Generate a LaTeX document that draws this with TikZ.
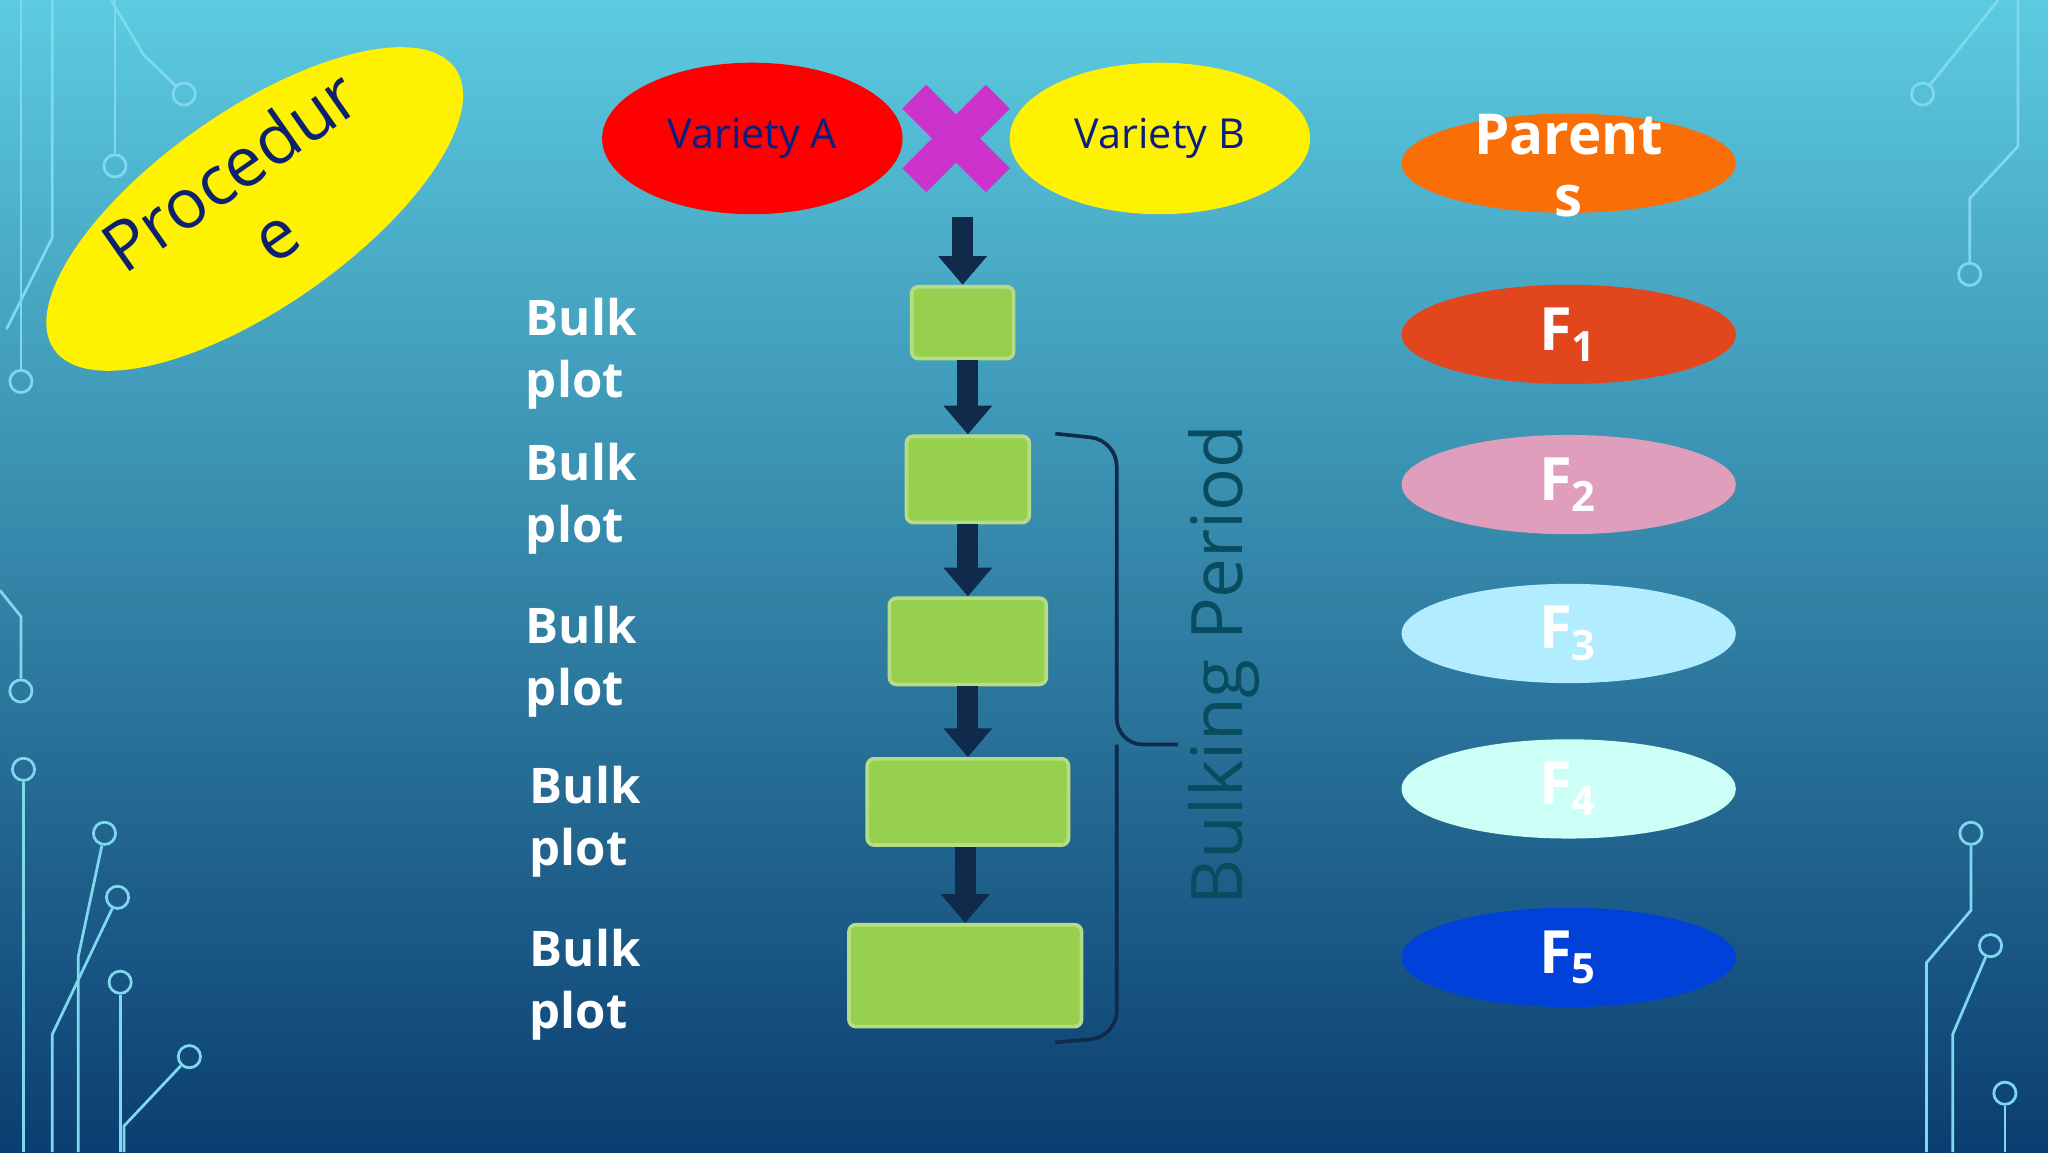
\documentclass[tikz,border=0pt]{standalone}
\usepackage{fontspec}
\setmainfont{Open Sans}
\usetikzlibrary{shapes.geometric}
\usetikzlibrary{positioning}
\usetikzlibrary{arrows.meta}
\definecolor{bgtop}{HTML}{5CCBE0}
\definecolor{bgbot}{HTML}{0B3E70}
\definecolor{boxgreen}{HTML}{97CF4F}
\definecolor{navy}{HTML}{0F2A4A}
\definecolor{wire}{HTML}{7FD8EE}
\tikzset{my_oval/.style={ellipse, minimum width=2.56cm, minimum height=0.76cm, inner sep=0pt, font=\bfseries\fontsize{13}{13}\selectfont, text=white}}
\tikzset{my_box/.style={draw=boxgreen!70!white, fill=boxgreen, rounded corners=1.5pt, thick}}
\tikzset{my_arrow/.style={-{Triangle[length=2.2mm,width=3.6mm]}, line width=1.6mm, navy}}
\tikzset{my_label/.style={align=left, text=white, font=\bfseries\fontsize{10.7}{13.5}\selectfont, anchor=west, inner sep=0pt}}
\tikzset{my_wire/.style={wire, line width=0.6pt}}
\tikzset{my_pin/.style={circle, draw=wire, line width=0.6pt, minimum size=0.17cm, inner sep=0pt}}

\begin{document}
\begin{tikzpicture}
    \shade[top color=bgtop, bottom color=bgbot] (0,0) rectangle (15.68,8.82);
    \useasboundingbox (0,0) rectangle (15.68,8.82);
    % circuit lines
    \node[my_pin] (p1) at (1.41,8.1) {};
    \node[my_pin] (p2) at (0.88,7.55) {};
    \node[my_pin] (p3) at (0.16,5.9) {};
    \node[my_pin] (p4) at (0.16,3.53) {};
    \node[my_pin] (p5) at (0.18,2.93) {};
    \node[my_pin] (p6) at (0.8,2.44) {};
    \node[my_pin] (p7) at (0.9,1.95) {};
    \node[my_pin] (p8) at (0.92,1.3) {};
    \node[my_pin] (p9) at (1.45,0.73) {};
    \node[my_pin] (q1) at (14.72,8.1) {};
    \node[my_pin] (q2) at (15.08,6.72) {};
    \node[my_pin] (q3) at (15.09,2.44) {};
    \node[my_pin] (q4) at (15.24,1.58) {};
    \node[my_pin] (q5) at (15.35,0.45) {};
    \draw[my_wire] (p1) -- (1.1,8.4) -- (0.85,8.82);
    \draw[my_wire] (p2) -- (0.88,8.82);
    \draw[my_wire] (p3) -- (0.16,8.82);
    \draw[my_wire] (0.05,6.3) -- (0.4,7.0) -- (0.4,8.82);
    \draw[my_wire] (p4) -- (0.16,4.1) -- (0,4.3);
    \draw[my_wire] (p5) -- (0.18,0);
    \draw[my_wire] (p6) -- (0.6,1.5) -- (0.6,0);
    \draw[my_wire] (p7) -- (0.4,0.9) -- (0.4,0);
    \draw[my_wire] (p8) -- (0.92,0);
    \draw[my_wire] (p9) -- (0.95,0.2) -- (0.95,0);
    \draw[my_wire] (q1) -- (15.3,8.82);
    \draw[my_wire] (q2) -- (15.08,7.3) -- (15.45,7.7) -- (15.45,8.82);
    \draw[my_wire] (q3) -- (15.09,1.85) -- (14.75,1.45) -- (14.75,0);
    \draw[my_wire] (q4) -- (14.95,0.9) -- (14.95,0);
    \draw[my_wire] (q5) -- (15.35,0);

    % title oval
    \node[ellipse, fill=yellow, minimum width=3.75cm, minimum height=1.5cm, rotate=35] (proc) at (1.95,7.22) {};
    \node[rotate=35, align=center, text=navy!80!blue, font=\fontsize{15}{17}\selectfont] (proctext) at (1.93,7.27) {Procedur\\e};

    % crossing
    \node[ellipse, fill=red, minimum width=2.3cm, minimum height=1.16cm,
        text=navy!70!blue, font=\fontsize{9}{9}\selectfont] (varA) at (5.76,7.76) {Variety A};
    \node[ellipse, fill=yellow, minimum width=2.3cm, minimum height=1.16cm,
        text=navy!70!blue, font=\fontsize{9}{9}\selectfont] (varB) at (8.88,7.76) {Variety B};
    \node (cross) at (7.32,7.76) {};
    \draw[violet!50!magenta!80!white, line width=2.6mm] (7.0,8.08) -- (7.64,7.44);
    \draw[violet!50!magenta!80!white, line width=2.6mm] (7.0,7.44) -- (7.64,8.08);

    % bulk plots
    \node[my_box, minimum width=0.78cm, minimum height=0.55cm] (b1) at (7.37,6.35) {};
    \node[my_box, minimum width=0.94cm, minimum height=0.66cm] (b2) at (7.41,5.15) {};
    \node[my_box, minimum width=1.2cm, minimum height=0.66cm] (b3) at (7.41,3.91) {};
    \node[my_box, minimum width=1.54cm, minimum height=0.66cm] (b4) at (7.41,2.68) {};
    \node[my_box, minimum width=1.78cm, minimum height=0.78cm] (b5) at (7.39,1.35) {};
    \draw[my_arrow] (7.37,7.16) -- (b1.north);
    \draw[my_arrow] (b1.south -| b2.north) -- (b2.north);
    \draw[my_arrow] (b2.south) -- (b3.north);
    \draw[my_arrow] (b3.south) -- (b4.north);
    \draw[my_arrow] (b4.south -| b5.north) -- (b5.north);

    \node[my_label] (l1) at (4.02,6.11) {Bulk\\plot};
    \node[my_label] (l2) at (4.02,5.0) {Bulk\\plot};
    \node[my_label] (l3) at (4.02,3.75) {Bulk\\plot};
    \node[my_label] (l4) at (4.05,2.53) {Bulk\\plot};
    \node[my_label] (l5) at (4.05,1.28) {Bulk\\plot};

    % brace
    \coordinate (brtop) at (8.08,5.5);
    \coordinate (brbot) at (8.08,0.84);
    \coordinate (brtip) at (9.02,3.12);
    \draw[navy, thick, rounded corners=2mm] (brtop) -- (8.55,5.45) -- (8.55,3.12) -- (brtip);
    \draw[navy, thick, rounded corners=2mm] (brbot) -- (8.55,0.88) -- (8.55,3.12);
    \node[rotate=90, text=navy!60!teal, font=\fontsize{15.5}{15.5}\selectfont] (bp) at (9.37,3.73) {Bulking Period};

    % generations
    \node[my_oval, fill=orange!85!red!90!brown] (par) at (12.01,7.57) {};
    \node[align=center, text=white, font=\bfseries\fontsize{12.3}{13.5}\selectfont] (partext) at (12.01,7.55) {Parent\\s};
    \node[my_oval, fill=red!50!brown!90!orange] (f1) at (12.01,6.26) {F\textsubscript{1}};
    \node[my_oval, fill=violet!30!pink!80!white] (f2) at (12.01,5.11) {F\textsubscript{2}};
    \node[my_oval, fill=blue!25!cyan!30!white] (f3) at (12.01,3.97) {F\textsubscript{3}};
    \node[my_oval, fill=green!20!cyan!20!white] (f4) at (12.01,2.78) {F\textsubscript{4}};
    \node[my_oval, fill=blue!70!cyan!85!black] (f5) at (12.01,1.49) {F\textsubscript{5}};
\end{tikzpicture}
\end{document}
